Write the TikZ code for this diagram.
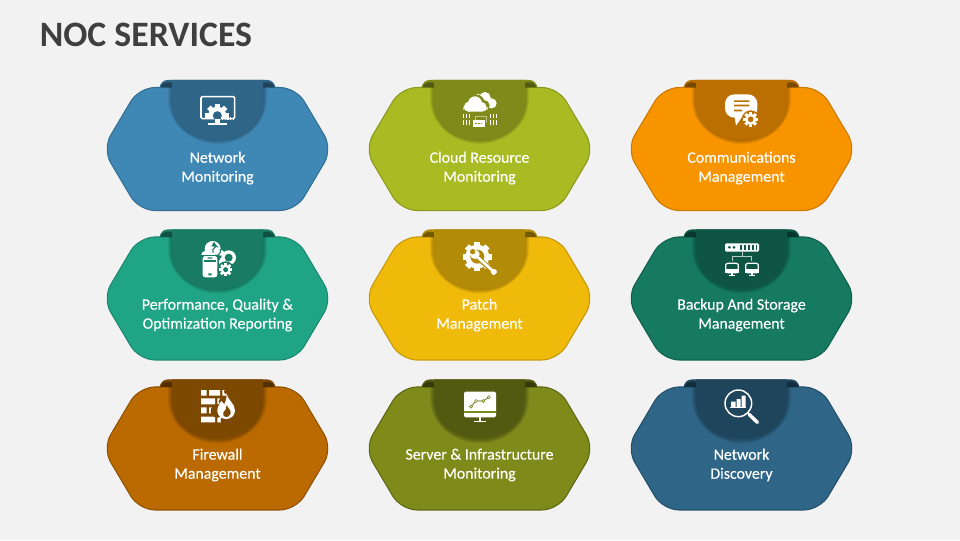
\documentclass[tikz,border=0pt]{standalone}
\usepackage{fontspec}
\setmainfont{Carlito}
\newfontfamily\labfont[FakeBold=0.25]{Carlito}
\usetikzlibrary{calc,arrows}
\definecolor{bgcol}{HTML}{F2F2F2}
\definecolor{titlecol}{HTML}{3F3F3F}
\definecolor{netfill}{HTML}{3F87B5}
\definecolor{nettab}{HTML}{2F6688}
\definecolor{cloudfill}{HTML}{A9BB23}
\definecolor{cloudtab}{HTML}{7E8A1A}
\definecolor{commfill}{HTML}{F79400}
\definecolor{commtab}{HTML}{BA6F00}
\definecolor{perffill}{HTML}{1FA585}
\definecolor{perftab}{HTML}{197B64}
\definecolor{patchfill}{HTML}{F0BA0B}
\definecolor{patchtab}{HTML}{B28B08}
\definecolor{backfill}{HTML}{167A60}
\definecolor{backtab}{HTML}{0F5544}
\definecolor{firefill}{HTML}{BA6A00}
\definecolor{firetab}{HTML}{7D4800}
\definecolor{servfill}{HTML}{7E8A1A}
\definecolor{servtab}{HTML}{525A11}
\definecolor{discfill}{HTML}{2F6688}
\definecolor{disctab}{HTML}{1F455C}
\tikzstyle{lab} = [align=center, text=white, font=\labfont\fontsize{11.9}{14.25}\selectfont, node distance=12.4pt]
\tikzstyle{icon} = [x=.25pt, y=-.25pt]
% card with its tab; #1 coordinate, #2 fill, #3 tab colour
\newcommand{\card}[3]{
	\colorlet{hole}{#3}
	\begin{scope}[shift={(#1)}]
		\draw [fill=#2, draw=#3!70!#2, line width=.8pt, rounded corners=12pt]
			(-115,0) -- (-78.5,61.5) -- (78.5,61.5) -- (115,0) -- (78.5,-61.5) -- (-78.5,-61.5) -- cycle;
		\fill [#3] (-58,61.5) .. controls (-57,66) and (-54,69) .. (-50,69) -- (50,69) .. controls (54,69) and (57,66) .. (58,61.5) -- cycle;
		\fill [#3!65!black] (-57,61.5) .. controls (-56,66) and (-51,68) .. (-45,66) -- (-45,61.5) -- cycle;
		\fill [#3!65!black] (57,61.5) .. controls (56,66) and (51,68) .. (45,66) -- (45,61.5) -- cycle;
		\foreach \s in {1,2,3,4}
			\fill [black, opacity=.07] (-45.5-\s,61.5) -- (-45.5-\s,49) .. controls (-45.5-\s,24) and (-25,9-\s) .. (0,9-\s) .. controls (25,9-\s) and (45.5+\s,24) .. (45.5+\s,49) -- (45.5+\s,61.5) -- cycle;
		\fill [#3] (-45.5,69) -- (-45.5,49) .. controls (-45.5,24) and (-25,10) .. (0,10) .. controls (25,10) and (45.5,24) .. (45.5,49) -- (45.5,69) -- cycle;
	\end{scope}
}
% gear, in zoomed icon units
\newcommand{\gear}[3]{
	\fill [white] (#1,#2) circle (#3);
	\foreach \a in {0,45,...,315}
		\fill [white, shift={(#1,#2)}, rotate=\a] (-.27*#3,0) rectangle (.27*#3,1.32*#3);
	\fill [hole] (#1,#2) circle (.5*#3);
}
\begin{document}
\begin{tikzpicture}[x=.75pt, y=.75pt]
	\useasboundingbox (0,0) rectangle (960,540);
	\fill [bgcol] (0,0) rectangle (960,540);
	\node [anchor=west, inner sep=0pt, text=titlecol, font=\fontsize{26.8}{30}\selectfont\bfseries] (title) at (39.5,505) {NOC SERVICES};

	\coordinate (net) at (217.5,391);
	\coordinate [right of = net, node distance=196.5pt] (cloud);
	\coordinate [right of = cloud, node distance=196.5pt] (comm);
	\coordinate [below of = net, node distance=112.1pt] (perf);
	\coordinate [right of = perf, node distance=196.5pt] (patch);
	\coordinate [right of = patch, node distance=196.5pt] (backup);
	\coordinate [below of = perf, node distance=112.5pt] (fire);
	\coordinate [right of = fire, node distance=196.5pt] (server);
	\coordinate [right of = server, node distance=196.5pt] (disc);

	\card{net}{netfill}{nettab}
	\node [lab, below of = net, node distance=14.3pt] (netl) {Network\\Monitoring};
	\begin{scope}[shift={(100,470)}, icon]
		\draw [white, line width=1.2pt, rounded corners=1pt] (303,80) rectangle (404,146);
		\begin{scope}
			\clip (300,80) rectangle (407,146);
			\gear{352}{137}{27}
		\end{scope}
		\fill [white] (345,146) rectangle (359,158);
		\fill [white] (323,158) rectangle (382,166);
		\foreach \s in {366,374,382,390,398}
			\fill [white] (\s,142) rectangle ++(4,7);
	\end{scope}

	\card{cloud}{cloudfill}{cloudtab}
	\node [lab, below of = cloud, node distance=14.3pt] (cloudl) {Cloud Resource\\Monitoring};
	\begin{scope}[shift={(420,465)}, icon]
		\fill [white] (175,70) circle (13) (195,68) circle (17) (215,85) circle (15);
		\fill [white] (190,78) rectangle (215,100);
		\fill [cloudtab] (150,82) circle (21) (170,82) circle (23) (192,92) circle (17) (198,113) rectangle (130,100);
		\fill [white] (147,95) circle (15) (165,85) circle (21) (185,95) circle (14);
		\fill [white, rounded corners=4pt] (130,90) rectangle (203,110);
		\foreach \s in {130,139,148,210,220,228}
			\draw [white, line width=.5pt, dash pattern=on 4pt off 1pt] (\s,150) -- (\s,118);
		\draw [white, opacity=.5, line width=.6pt] (165,143) -- (165,124) -- (200,124) -- (200,143);
		\fill [white] (158,135) rectangle (195,155);
		\draw [cloudtab, line width=.8pt, dash pattern=on 1.2pt off .8pt] (166,145) -- (187,145);
	\end{scope}

	\card{comm}{commfill}{commtab}
	\node [lab, below of = comm, node distance=14.3pt] (comml) {Communications\\Management};
	\begin{scope}[shift={(680,465)}, icon]
		\fill [white, rounded corners=7pt] (135,58) rectangle (232,128);
		\fill [white] (163,120) -- (168,152) -- (190,120) -- cycle;
		\fill [hole] (162,76) rectangle (208,81) (162,89) rectangle (208,94) (162,104) rectangle (186,109);
		\fill [hole] (212,133) circle (27);
		\gear{212}{133}{17}
	\end{scope}

	\card{perf}{perffill}{perftab}
	\node [lab, below of = perf] (perfl) {Performance, Quality \&\\Optimization Reporting};
	\begin{scope}[shift={(160,315)}, icon]
		% right cloud, then main cloud
		\fill [white] (206,98) circle (22);
		\fill [hole] (206,98) circle (12);
		\fill [white] (186,110) circle (10);
		\fill [white] (138,92) circle (15) (158,72) circle (24) (178,90) circle (17);
		\fill [white] (124,92) rectangle (190,108);
		\draw [hole, line width=.8pt, -latex] (170,78) ++(150:12) arc (150:300:12);
		\draw [hole, line width=.8pt, -latex] (170,78) ++(-30:12) arc (-30:120:12);
		\fill [hole] (124,90) rectangle (176,160);
		\fill [white, rounded corners=2pt] (128,93) rectangle (172,157);
		\fill [hole] (133,105) rectangle (167,140);
		\fill [white] (133,111) rectangle (167,140);
		\fill [hole] (143,97) rectangle (157,101) (145,145) rectangle (155,151);
		\fill [hole] (197,134) circle (25);
		\gear{197}{134}{15}
	\end{scope}

	\card{patch}{patchfill}{patchtab}
	\node [lab, below of = patch] (patchl) {Patch\\Management};
	\begin{scope}[shift={(420,315)}, icon]
		\gear{172}{95}{33}
		\fill [white] (172,95) circle (36);
		\fill [hole] (172,95) circle (21);
		\draw [hole, line width=3.6pt] (170,95) -- (222,142);
		\fill [white] (165,88) circle (14);
		\draw [white, line width=2pt] (168,92) -- (222,141);
		\fill [white] (222,141) circle (9);
		\fill [hole] (158,80) circle (8) (229,148) circle (4);
	\end{scope}

	\card{backup}{backfill}{backtab}
	\node [lab, below of = backup] (backupl) {Backup And Storage\\Management};
	\begin{scope}[shift={(680,315)}, icon]
		\fill [white, rounded corners=1pt] (135,55) rectangle (237,80);
		\fill [hole] (148,67) circle (4.5) (162,67) circle (4.5);
		\foreach \s in {181,193,205,217,227}
			\fill [hole] (\s,60) rectangle ++(4,15);
		\draw [white, opacity=.7, line width=.7pt] (186,80) -- (186,95) (157,107) -- (157,95) -- (215,95) -- (215,107);
		\foreach \s in {135,195} {
			\draw [white, line width=.9pt, rounded corners=1.5pt] (\s+2,115) rectangle (\s+40,143);
			\fill [white] (\s,133) rectangle (\s+42,145);
			\fill [white] (\s+18,145) rectangle (\s+24,151);
			\fill [white] (\s+12,150) rectangle (\s+30,153);
		}
	\end{scope}

	\card{fire}{firefill}{firetab}
	\node [lab, below of = fire] (firel) {Firewall\\Management};
	\begin{scope}[shift={(160,165)}, icon]
		\fill [white] (123,45) rectangle (140,62) (147,45) rectangle (180,62) (187,45) rectangle (200,62);
		\fill [white] (123,70) rectangle (165,88) (172,70) rectangle (182,88);
		\fill [white] (123,97) rectangle (140,115) (147,97) rectangle (170,115);
		\fill [white] (123,125) rectangle (165,142) (172,125) rectangle (200,142);
		\fill [hole] (172,108) circle (20) (200,50) circle (8) (190,80) circle (14) (200,137) circle (18) (226,110) circle (4);
		\fill [white] (199,55) .. controls (203,75) and (225,85) .. (225,107) .. controls (225,122) and (212,132) .. (198,132) .. controls (182,132) and (172,120) .. (172,107) .. controls (172,94) and (180,88) .. (183,78) .. controls (188,82) and (190,85) .. (193,88) .. controls (198,78) and (201,68) .. (199,55) -- cycle;
		\fill [hole] (200,90) .. controls (203,98) and (214,106) .. (212,115) .. controls (210,124) and (203,127) .. (197,126) .. controls (190,125) and (188,118) .. (190,112) .. controls (196,108) and (200,100) .. (200,90) -- cycle;
	\end{scope}

	\card{server}{servfill}{servtab}
	\node [lab, below of = server] (serverl) {Server \& Infrastructure\\Monitoring};
	\begin{scope}[shift={(420,165)}, icon]
		\fill [white, rounded corners=1.5pt] (132,50) rectangle (228,127);
		\fill [servfill] (132,108) rectangle (228,113);
		\fill [white] (177,127) rectangle (183,138);
		\fill [white] (161,137) rectangle (199,141);
		\draw [servtab, line width=.5pt] (153,95) -- (168,78) -- (190,78) -- (206,67);
		\foreach \p in {(153,95),(168,78),(190,78),(206,67)}
			\draw [servfill, fill=white, line width=.5pt] \p circle (4.5);
	\end{scope}

	\card{disc}{discfill}{disctab}
	\node [lab, below of = disc] (discl) {Network\\Discovery};
	\begin{scope}[shift={(680,165)}, icon]
		\draw [white, line width=1.1pt] (175,85) circle (40);
		\fill [white] (153,80) rectangle (167,97) (170,72) rectangle (182,97) (185,62) rectangle (197,97);
		\fill [white] (150,97) rectangle (198,100);
		\draw [white, line width=2.6pt, line cap=round] (207,118) -- (232,142);
	\end{scope}
\end{tikzpicture}
\end{document}
